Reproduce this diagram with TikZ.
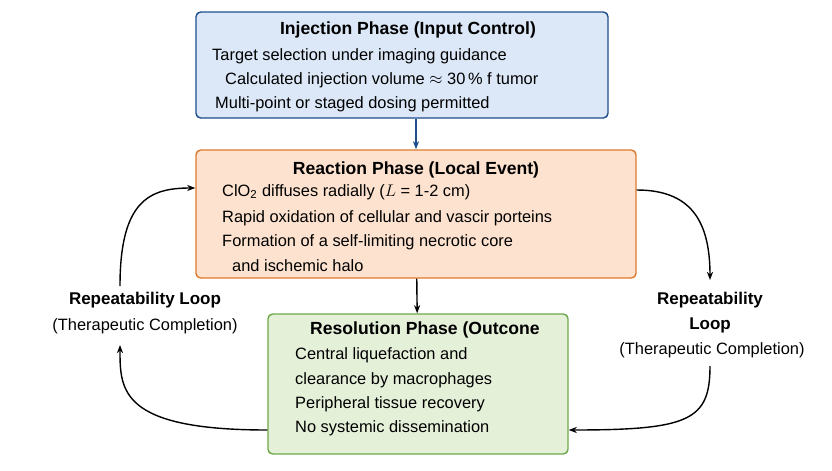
\documentclass[tikz,border=0pt]{standalone}
\usepackage{fontspec}
\setmainfont{Liberation Sans}
\usetikzlibrary{arrows.meta}
\usetikzlibrary{positioning}
\definecolor{injfill}{HTML}{DCE8F7}
\definecolor{injline}{HTML}{1F4E8C}
\definecolor{reafill}{HTML}{FDE3CF}
\definecolor{realine}{HTML}{E07A2E}
\definecolor{resfill}{HTML}{E5F0D9}
\definecolor{resline}{HTML}{6FA84A}
\tikzset{
  phase/.style={draw, rounded corners=4pt, line width=1.2pt},
  title/.style={font=\fontsize{15}{17}\selectfont\bfseries, inner sep=0pt},
  item/.style={anchor=west, font=\fontsize{14}{16}\selectfont, inner sep=0pt},
  looptext/.style={font=\fontsize{14}{16}\selectfont, inner sep=0pt},
  loopbold/.style={font=\fontsize{14.5}{16}\selectfont\bfseries, inner sep=0pt},
  flow/.style={-{Stealth[length=7pt]}, line width=1.2pt},
}
\begin{document}
\begin{tikzpicture}[x=0.03cm,y=-0.03cm]
	\useasboundingbox (0,0) rectangle (832,470);
		% phase boxes
		\node (inj) at (402,65) [phase, draw=injline, fill=injfill, minimum width=12.36cm, minimum height=3.18cm] {};
		\node (rea) at (416,214) [phase, draw=realine, fill=reafill, minimum width=13.2cm, minimum height=3.84cm] {};
		\node (res) at (418,384) [phase, draw=resline, fill=resfill, minimum width=9cm, minimum height=4.2cm] {};

		% injection texts
		\node[title] (injT) at (408,30) {Injection Phase (Input Control)};
		\node[item] (inj1) at (212,56) {Target selection under imaging guidance};
		\node[item] (inj2) at (225,80) {Calculated injection volume $\approx$ 30\,\% f tumor};
		\node[item] (inj3) at (215,104) {Multi-point or staged dosing permitted};

		% reaction texts
		\node[title] (reaT) at (416,170) {Reaction Phase (Local Event)};
		\node[item] (rea1) at (222,192) {ClO\textsubscript{2} diffuses radially ($L$ = 1-2 cm)};
		\node[item] (rea2) at (222,218) {Rapid oxidation of cellular and vascir porteins};
		\node[item] (rea3) at (222,242) {Formation of a self-limiting necrotic core};
		\node[item] (rea4) at (232,266) {and ischemic halo};

		% resolution texts
		\node[title, anchor=west] (resT) at (310,330) {Resolution Phase (Outcone};
		\node[item] (res1) at (295,355) {Central liquefaction and};
		\node[item] (res2) at (295,380) {clearance by macrophages};
		\node[item] (res3) at (295,404) {Peripheral tissue recovery};
		\node[item] (res4) at (295,428) {No systemic dissemination};

		% loop labels
		\node[loopbold] (lL1) at (145,300) {Repeatability Loop};
		\node[looptext] (lL2) at (145,326) {(Therapeutic Completion)};
		\node[loopbold] (rL1) at (710,300) {Repeatability};
		\node[loopbold] (rL2) at (710,325) {Loop};
		\node[looptext] (rL3) at (712,350) {(Therapeutic Completion)};

		% straight flows
		\draw[flow, draw=injline] (inj.south -| rea) -- (rea);
		\draw[flow] (rea) -- (res);

		% loops
		\coordinate (lA) at (120,345);
		\coordinate (lB) at (120,286);
		\coordinate (rA) at (710,280);
		\coordinate (rB) at (710,366);
		\draw[flow] (res.west |- 0,430) .. controls (120,430) and (120,390) .. (lA);
		\draw[flow] (lB) .. controls (120,200) and (150,188) .. (rea.west |- 0,188);
		\draw[flow] (rea.east |- 0,190) .. controls (690,190) and (710,220) .. (rA);
		\draw[flow] (rB) .. controls (710,420) and (690,430) .. (res.east |- 0,430);
	\end{tikzpicture}
\end{document}
